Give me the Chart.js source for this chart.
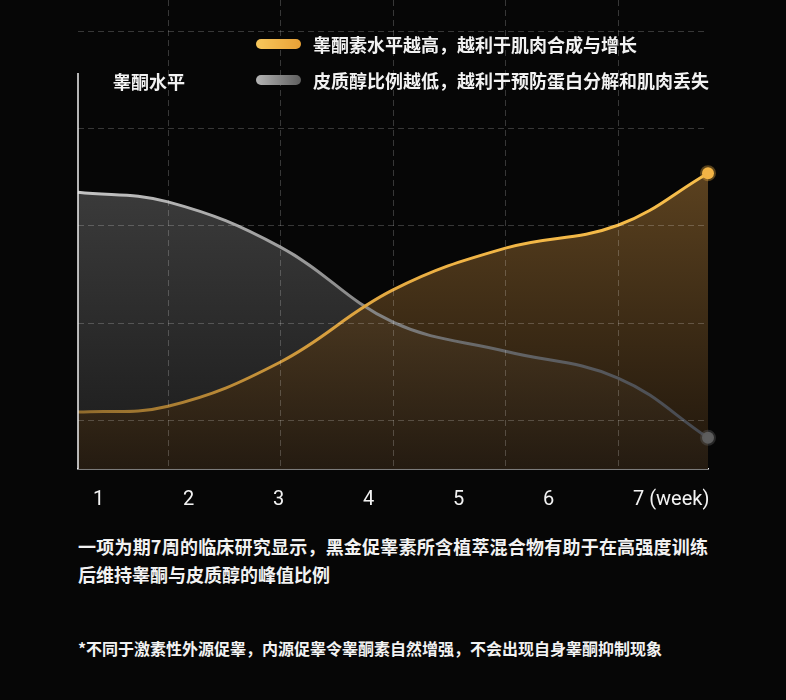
<!DOCTYPE html>
<html lang="zh-CN">
<head>
<meta charset="UTF-8">
<title>睾酮水平</title>
<script src="https://cdn.jsdelivr.net/npm/chart.js@4"></script>
<style>
  html, body { margin: 0; padding: 0; background: #060606; }
  body { width: 786px; height: 700px; position: relative; overflow: hidden;
         font-family: "Noto Sans CJK SC", "Noto Sans", sans-serif; color: #f2f2f2; }
  #wrap { position: absolute; left: 0; top: -10px; width: 786px; height: 541px; }
  .legend-item { position: absolute; left: 256px; height: 20px; display: flex; align-items: center;
                 font-size: 18px; font-weight: 700; white-space: nowrap; }
  .swatch { width: 45px; height: 10px; border-radius: 5px; margin-right: 12px; }
  #ytitle { position: absolute; left: 113px; top: 68px; font-size: 18px; line-height: 26px; font-weight: 700; }
  #note { position: absolute; left: 78px; top: 532px; width: 630px; font-size: 18px; line-height: 28px;
          font-weight: 700; text-align: justify; }
  #foot { position: absolute; left: 78px; top: 636px; font-size: 16px; line-height: 24px; font-weight: 700; }
</style>
</head>
<body>
<div id="wrap"><canvas id="chart"></canvas></div>
<div id="legend"></div>
<div id="ytitle"></div>
<div id="note">一项为期7周的临床研究显示，黑金促睾素所含植萃混合物有助于在高强度训练后维持睾酮与皮质醇的峰值比例</div>
<div id="foot">*不同于激素性外源促睾，内源促睾令睾酮素自然增强，不会出现自身睾酮抑制现象</div>
<script>
// data (x in weeks from start, y in relative level)
const weeks = ['1', '2', '3', '4', '5', '6', '7 (week)'];
const sampleWeeks = [0, 1, 2.25, 3.5, 4.75, 6, 7];
const testosterone = [11.7, 12.9, 22, 36.8, 45.4, 50.1, 60.8];
const cortisol = [56.9, 54.9, 45.6, 30.2, 24.2, 18.7, 6.4];
const yGridValues = [10, 30, 50, 70, 90];
const seriesNames = ['睾酮素水平越高，越利于肌肉合成与增长', '皮质醇比例越低，越利于预防蛋白分解和肌肉丢失'];
const yTitle = '睾酮水平';

const swatchColors = [
  'linear-gradient(90deg, #f7c75c, #e9a136)',
  'linear-gradient(90deg, #b4b4b4, #5e5e5e)'
];

// html legend
const legend = document.getElementById('legend');
seriesNames.forEach((name, i) => {
  const item = document.createElement('div');
  item.className = 'legend-item';
  item.style.top = (34 + i * 36) + 'px';
  item.innerHTML = '<span class="swatch" style="background:' + swatchColors[i] + '"></span><span></span>';
  item.lastChild.textContent = name;
  legend.appendChild(item);
});
document.getElementById('ytitle').textContent = yTitle;

function vGrad(chart, stops) {
  const { ctx, chartArea } = chart;
  if (!chartArea) return null;
  const g = ctx.createLinearGradient(0, chartArea.top, 0, chartArea.bottom);
  stops.forEach(s => g.addColorStop(s[0], s[1]));
  return g;
}
function hGrad(chart, stops) {
  const { ctx, chartArea } = chart;
  if (!chartArea) return null;
  const g = ctx.createLinearGradient(chartArea.left, 0, chartArea.right, 0);
  stops.forEach(s => g.addColorStop(s[0], s[1]));
  return g;
}

const lastOnly = (r) => (ctx) => ctx.dataIndex === sampleWeeks.length - 1 ? r : 0;

// white y axis line that starts below the legend (page px 73, canvas is shifted up 10)
const axisTopPx = 83;
const leftAxis = {
  id: 'leftAxis',
  afterDraw(chart) {
    const { ctx, chartArea } = chart;
    ctx.save();
    ctx.strokeStyle = '#f0f0f0';
    ctx.lineWidth = 1.5;
    ctx.beginPath();
    ctx.moveTo(chartArea.left, axisTopPx);
    ctx.lineTo(chartArea.left, chartArea.bottom);
    ctx.stroke();
    ctx.restore();
  }
};

const gridColor = 'rgba(255,255,255,0.2)';

new Chart(document.getElementById('chart'), {
  type: 'line',
  data: {
    datasets: [
      {
        label: seriesNames[0],
        data: sampleWeeks.map((x, i) => ({ x, y: testosterone[i] })),
        borderColor: (c) => hGrad(c.chart, [[0, '#8f6a2c'], [0.4, '#d9a03e'], [0.6, '#f0b445'], [1, '#f7be4b']]),
        borderWidth: 3,
        fill: 'origin',
        backgroundColor: (c) => vGrad(c.chart, [[0.36, 'rgba(116,83,39,0.78)'], [1, 'rgba(39,27,14,0.78)']]),
        tension: 0.4,
        pointRadius: lastOnly(6),
        pointBackgroundColor: '#f3b446',
        pointBorderColor: 'rgba(243,180,70,0.35)',
        pointBorderWidth: 4,
        clip: false
      },
      {
        label: seriesNames[1],
        data: sampleWeeks.map((x, i) => ({ x, y: cortisol[i] })),
        borderColor: (c) => hGrad(c.chart, [[0, '#c4c4c4'], [0.35, '#9a9a9a'], [0.6, '#6c6c6c'], [1, '#45484f']]),
        borderWidth: 3,
        fill: 'origin',
        backgroundColor: (c) => vGrad(c.chart, [[0.4, 'rgba(62,62,62,0.95)'], [1, 'rgba(28,28,28,0.95)']]),
        tension: 0.4,
        pointRadius: lastOnly(6),
        pointBackgroundColor: '#5e5e5e',
        pointBorderColor: 'rgba(90,90,90,0.4)',
        pointBorderWidth: 4,
        clip: false
      }
    ]
  },
  options: {
    responsive: true,
    maintainAspectRatio: false,
    animation: false,
    events: [],
    layout: { padding: { left: 78, right: 78, top: 0, bottom: 0 } },
    plugins: {
      legend: { display: false },
      tooltip: { enabled: false },
      filler: { drawTime: 'beforeDatasetsDraw' }
    },
    scales: {
      x: {
        type: 'linear', min: 0, max: 7, position: 'bottom',
        afterBuildTicks: (s) => { s.ticks = weeks.map((w, i) => ({ value: i })); },
        ticks: {
          callback: (v, i) => weeks[i],
          align: 'start', labelOffset: 15, padding: 19, autoSkip: false, maxRotation: 0,
          color: '#f2f2f2', font: { family: 'Roboto', size: 20 }
        },
        grid: { display: false, drawTicks: false },
        border: { display: true, color: '#f0f0f0', width: 1.5 }
      },
      xg: {
        type: 'linear', min: 0, max: 7, position: 'bottom',
        afterBuildTicks: (s) => { s.ticks = sampleWeeks.slice(1, -1).map(v => ({ value: v })); },
        ticks: { display: false },
        grid: { color: gridColor, lineWidth: 1, drawTicks: false, z: 1 },
        border: { display: false, dash: [6, 4] }
      },
      y: {
        min: 0, max: 96.4,
        afterBuildTicks: (s) => { s.ticks = yGridValues.map(v => ({ value: v })); },
        ticks: { display: false },
        grid: { color: gridColor, lineWidth: 1, drawTicks: false, z: 1 },
        border: { display: false, dash: [6, 4] }
      }
    }
  },
  plugins: [leftAxis]
});
</script>
</body>
</html>
